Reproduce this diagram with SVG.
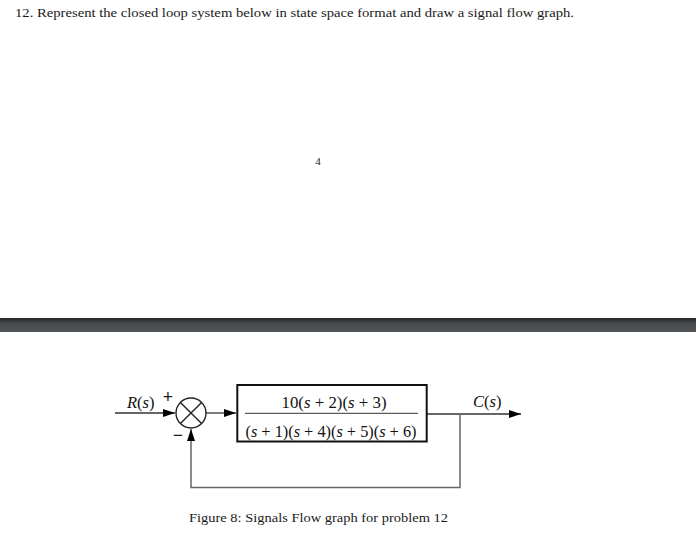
<svg xmlns="http://www.w3.org/2000/svg" width="696" height="538" viewBox="0 0 696 538">
  <style>
    .serif { font-family: 'Liberation Serif', 'DejaVu Serif', serif; fill: #1a1a1a; }
    .math { font-family: 'Liberation Serif', 'DejaVu Serif', serif; fill: #111; font-size: 16.5px; }
    .line { stroke: #333; stroke-width: 1.3; fill: none; }
    .fb { stroke: #666; stroke-width: 1.5; fill: none; }
  </style>
  <defs>
    <marker id="arr" viewBox="0 0 12 8" refX="12" refY="4" markerWidth="12" markerHeight="8" markerUnits="userSpaceOnUse" orient="auto">
      <path d="M0,0 L12,4 L0,8 Z" fill="#000"/>
    </marker>
    <linearGradient id="bar" x1="0" y1="0" x2="0" y2="1">
      <stop offset="0" stop-color="#222426"/>
      <stop offset="0.35" stop-color="#45494c"/>
      <stop offset="1" stop-color="#53575a"/>
    </linearGradient>
  </defs>
  <rect width="696" height="538" fill="#fff"/>

  <text class="serif" x="15" y="17" font-size="13" textLength="559" lengthAdjust="spacingAndGlyphs">12. Represent the closed loop system below in state space format and draw a signal flow graph.</text>
  <text class="serif" x="318" y="165" font-size="11" text-anchor="middle">4</text>

  <rect x="0" y="318" width="696" height="14" fill="url(#bar)"/>

  <g id="connectors">
    <line class="line" x1="115" y1="413" x2="175" y2="413" marker-end="url(#arr)"/>
    <line class="line" x1="206" y1="413" x2="236" y2="413" marker-end="url(#arr)"/>
    <line class="line" x1="427" y1="414" x2="521" y2="414" marker-end="url(#arr)"/>
    <polyline class="fb" points="460,414 460,487.5 191,487.5 191,429" marker-end="url(#arr)"/>
  </g>

  <g id="input">
    <text class="math" x="127" y="408"><tspan font-style="italic">R</tspan>(<tspan font-style="italic">s</tspan>)</text>
  </g>

  <g id="sum">
    <circle cx="191" cy="413" r="15" fill="#fff" stroke="#222" stroke-width="1.4"/>
    <line x1="180.4" y1="402.4" x2="201.6" y2="423.6" stroke="#222" stroke-width="1.4"/>
    <line x1="201.6" y1="402.4" x2="180.4" y2="423.6" stroke="#222" stroke-width="1.4"/>
    <text class="serif" x="168" y="403" font-size="18" font-weight="bold" text-anchor="middle">+</text>
    <text class="serif" x="178" y="441" font-size="18" font-weight="bold" text-anchor="middle">−</text>
  </g>

  <g id="plant">
    <rect x="237.3" y="385" width="189.4" height="56.5" fill="#fff" stroke="#111" stroke-width="2"/>
    <text class="math" x="334" y="408" text-anchor="middle" textLength="105" lengthAdjust="spacingAndGlyphs">10(<tspan font-style="italic">s</tspan> + 2)(<tspan font-style="italic">s</tspan> + 3)</text>
    <line x1="245" y1="413.3" x2="418" y2="413.3" stroke="#333" stroke-width="1"/>
    <text class="math" x="331" y="437" text-anchor="middle" textLength="171" lengthAdjust="spacingAndGlyphs">(<tspan font-style="italic">s</tspan> + 1)(<tspan font-style="italic">s</tspan> + 4)(<tspan font-style="italic">s</tspan> + 5)(<tspan font-style="italic">s</tspan> + 6)</text>
  </g>

  <g id="output">
    <text class="math" x="473" y="407"><tspan font-style="italic">C</tspan>(<tspan font-style="italic">s</tspan>)</text>
  </g>

  <text class="serif" x="189" y="522" font-size="13" textLength="259" lengthAdjust="spacingAndGlyphs">Figure 8: Signals Flow graph for problem 12</text>
</svg>
